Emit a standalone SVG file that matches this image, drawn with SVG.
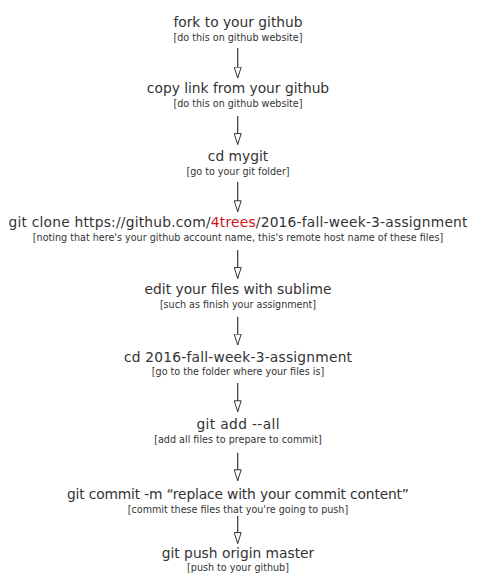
<svg xmlns="http://www.w3.org/2000/svg" width="477" height="584" viewBox="0 0 477 584">
<style>
.t{font-family:"DejaVu Sans","Liberation Sans",sans-serif;font-size:13.8px;fill:#333;text-anchor:middle}
.s{font-family:"DejaVu Sans","Liberation Sans",sans-serif;font-size:9.6px;fill:#333;text-anchor:middle}
.red{fill:#d0101c}
.c line{stroke:#333;stroke-width:1.2;marker-end:url(#ah)}
</style>
<defs>
<marker id="ah" viewBox="0 0 12 8" refX="11.5" refY="4" markerWidth="12" markerHeight="8" markerUnits="userSpaceOnUse" orient="auto">
<path d="M0.6,0.5 L11.4,4 L0.6,7.5 z" fill="#fff" stroke="#333" stroke-width="1"/>
</marker>
</defs>
<rect width="477" height="584" fill="#fff"/>
<g id="n1"><text class="t" x="238" y="27.3">fork to your github</text><text class="s" x="238" y="40.5">[do this on github website]</text></g>
<g id="n2"><text class="t" x="238" y="93.3">copy link from your github</text><text class="s" x="238" y="106.5">[do this on github website]</text></g>
<g id="n3"><text class="t" x="238" y="160.7">cd mygit</text><text class="s" x="238" y="175">[go to your git folder]</text></g>
<g id="n4"><text class="t" x="238" y="227.3" textLength="459" lengthAdjust="spacing">git clone https://github.com/<tspan class="red">4trees</tspan>/2016-fall-week-3-assignment</text><text class="s" x="238" y="241.3">[noting that here's your github account name, this's remote host name of these files]</text></g>
<g id="n5"><text class="t" x="238" y="294">edit your files with sublime</text><text class="s" x="238" y="307.5">[such as finish your assignment]</text></g>
<g id="n6"><text class="t" x="238" y="361.7" textLength="228" lengthAdjust="spacing">cd 2016-fall-week-3-assignment</text><text class="s" x="238" y="375">[go to the folder where your files is]</text></g>
<g id="n7"><text class="t" x="238" y="429.3" textLength="83" lengthAdjust="spacing">git add --all</text><text class="s" x="238" y="443">[add all files to prepare to commit]</text></g>
<g id="n8"><text class="t" x="238" y="499.3" textLength="342" lengthAdjust="spacing">git commit -m “replace with your commit content”</text><text class="s" x="238" y="512.7">[commit these files that you're going to push]</text></g>
<g id="n9"><text class="t" x="238" y="558.3">git push origin master</text><text class="s" x="238" y="571">[push to your github]</text></g>
<g id="connectors" class="c">
<line x1="237.7" y1="48" x2="237.7" y2="78"/>
<line x1="237.7" y1="116" x2="237.7" y2="144.5"/>
<line x1="237.7" y1="182" x2="237.7" y2="211.7"/>
<line x1="237.7" y1="250" x2="237.7" y2="278.5"/>
<line x1="237.7" y1="316.7" x2="237.7" y2="345"/>
<line x1="237.7" y1="383" x2="237.7" y2="411.7"/>
<line x1="237.7" y1="452.7" x2="237.7" y2="480.7"/>
<line x1="237.7" y1="516" x2="237.7" y2="543.5"/>
</g>
</svg>
